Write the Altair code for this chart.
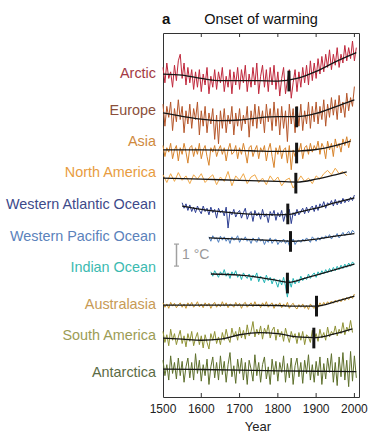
import altair as alt
import pandas as pd

regions = ["Arctic", "Europe", "Asia", "North America", "Western Atlantic Ocean",
           "Western Pacific Ocean", "Indian Ocean", "Australasia", "South America", "Antarctica"]
line_colors = ["#c0283c", "#b5562a", "#d8842c", "#f0a848", "#2e3f94",
               "#4f7fc0", "#22b5b5", "#c9952e", "#8f9235", "#5e702c"]
label_colors = ["#a33a45", "#8b4f3a", "#cf8a3e", "#e89c40", "#3d4a8a",
                "#5b82bb", "#3cbab0", "#c79a55", "#9c9c55", "#5b6b45"]
start_years = [1500, 1500, 1500, 1500, 1550, 1620, 1625, 1500, 1500, 1500]
steps = [5, 5, 5, 10, 5, 5, 5, 5, 5, 5]

arctic = [0.3, -0.4, 0.5, -0.2, 0.1, -0.6, 0.4, -0.3, 0.6, 0.9,
          -0.2, 0.5, -0.5, 0.3, -0.4, 0.2, -0.7, 0.1, -0.6, 0.2,
          -0.8, 0.0, -0.5, 0.3, -0.9, -0.1, -0.6, 0.2, -0.7, 0.1,
          -0.4, 0.3, -0.8, -0.1, -0.6, 0.2, -0.9, 0.1, -0.5, 0.3,
          -0.7, 0.2, -0.4, 0.4, -0.8, 0.0, -0.6, 0.3, -0.5, 0.5,
          -0.9, -0.1, 0.4, -0.6, 0.2, -0.8, 0.3, -0.5, 0.4, -0.7,
          0.1, -1.0, -0.2, 0.3, -0.9, -0.3, 0.2, -1.1, -0.4, 0.2,
          -0.8, 0.1, -0.6, 0.3, -0.4, 0.4, -0.5, 0.6, -0.3, 0.5,
          -0.2, 0.7, 0.0, 0.8, 0.1, 0.9, 0.3, 1.1, 0.2, 0.9,
          0.4, 1.2, 0.3, 0.9, 0.5, 1.3, 0.6, 1.2, 0.7, 1.5,
          0.6, 1.2]
europe = [0.4, -0.6, 0.3, -0.2, 0.5, -0.8, 0.2, -0.4, 0.6, -0.3,
          0.3, -0.9, 0.1, -0.5, 0.4, -0.7, 0.2, -0.3, 0.5, -1.0,
          0.1, -0.6, 0.3, -0.9, 0.0, -0.5, 0.2, -1.2, -0.1, -1.4,
          0.1, -0.7, 0.2, -0.9, -0.1, -0.5, 0.3, -1.0, 0.0, -0.6,
          0.2, -0.8, -0.1, -0.5, 0.3, -1.1, 0.1, -0.6, 0.4, -0.7,
          0.3, -0.5, 0.1, -0.9, 0.4, -0.4, 0.2, -0.8, 0.5, -0.6,
          0.2, -1.0, 0.3, -0.7, 0.1, -1.3, 0.4, -0.5, 0.2, -0.9,
          0.3, -0.6, 0.4, -0.8, 0.1, -0.5, 0.5, -0.7, 0.3, -0.4,
          0.5, -0.5, 0.3, -0.3, 0.6, -0.6, 0.4, -0.2, 0.7, -0.1,
          0.6, -0.3, 0.8, 0.0, 0.5, -0.2, 0.9, 0.1, 0.7, 0.3,
          1.2]
asia = [0.2, -0.3, 0.1, -0.1, 0.3, -0.4, 0.0, 0.2, -0.5, 0.1,
        -0.2, 0.3, -0.1, -0.6, 0.1, 0.2, -0.3, 0.1, -0.2, 0.3,
        -0.4, 0.0, 0.2, -0.3, -0.7, 0.1, -0.1, 0.2, -0.3, 0.0,
        0.2, -0.2, 0.1, -0.5, 0.0, 0.3, -0.2, -0.1, 0.2, -0.4,
        0.1, -0.2, 0.3, -0.1, -0.6, 0.1, 0.2, -0.3, 0.0, 0.2,
        -0.4, 0.1, -0.1, 0.2, -0.5, 0.0, 0.3, -0.3, -0.8, 0.1,
        -0.2, 0.2, -0.4, 0.0, 0.1, -0.6, 0.2, -0.9, 0.0, -0.3,
        0.2, -0.1, 0.3, -0.4, 0.1, 0.2, -0.2, 0.3, -0.1, 0.2,
        0.0, 0.4, -0.2, 0.3, 0.1, -0.4, 0.4, 0.0, 0.3, -0.3,
        0.5, 0.1, 0.3, -0.1, 0.5, 0.2, 0.6, 0.1, 0.5]
north_america = [0.15, -0.2, 0.2, -0.15, 0.25, -0.1, 0.1, -0.25, 0.15, -0.05,
                 0.2, -0.2, 0.0, 0.15, -0.3, 0.05, -0.15, 0.3, -0.35, 0.1,
                 -0.1, 0.2, -0.25, 0.05, 0.15, -0.2, 0.0, -0.3, 0.1, -0.15,
                 0.05, -0.35, -0.1, 0.0, -0.45, -0.2, 0.1, -0.15, 0.0, -0.25,
                 0.1, -0.05, 0.2, 0.35, 0.15, 0.45, 0.2, 0.3, 0.1]
w_atlantic = [0.15, -0.1, 0.1, -0.2, 0.05, -0.25, -0.05, -0.3, 0.0, -0.2,
              -0.35, 0.0, -0.25, -0.1, -0.4, -0.05, -0.3, -0.15, -0.55, -0.1,
              -0.3, -0.2, -0.45, -0.05, -1.0, -0.25, -0.4, -0.15, -0.5, -0.3,
              -0.2, -0.55, -0.3, -0.1, -0.6, -0.35, -0.25, -0.7, -0.2, -0.45,
              -0.3, -0.6, -0.15, -0.5, -0.35, -0.75, -0.25, -0.45, -0.2, -0.65,
              -0.3, -0.5, -0.2, -0.7, -0.35, -0.55, -0.15, -0.8, -0.3, -0.45,
              -0.15, -0.4, -0.25, -0.1, -0.35, -0.05, -0.3, -0.1, 0.0, -0.25,
              0.05, -0.2, 0.1, -0.05, 0.2, -0.1, 0.15, 0.05, 0.25, 0.0,
              0.3, 0.05, 0.25, 0.1, 0.35, 0.15, 0.3, 0.2, 0.4, 0.25,
              0.5]
w_pacific = [0.05, -0.15, 0.1, -0.05, 0.0, -0.2, 0.08, -0.1, 0.05, -0.15,
             0.0, -0.25, 0.05, -0.1, -0.05, 0.1, -0.2, -0.02, -0.1, 0.05,
             -0.15, -0.05, -0.25, 0.0, -0.1, -0.2, 0.02, -0.15, -0.05, -0.3,
             -0.1, -0.2, 0.0, -0.25, -0.1, -0.05, -0.3, -0.15, -0.2, -0.05,
             -0.25, -0.1, -0.35, -0.2, -0.05, -0.3, -0.15, -0.1, -0.2, -0.05,
             -0.15, 0.0, -0.1, -0.2, 0.05, -0.05, -0.15, 0.02, -0.1, 0.05,
             -0.05, 0.1, 0.0, 0.15, -0.05, 0.1, 0.05, 0.2, 0.0, 0.12,
             0.25, 0.1, 0.2, 0.3, 0.15, 0.35, 0.25]
indian = [0.1, -0.1, 0.15, 0.0, -0.15, 0.1, -0.05, 0.2, -0.1, 0.05,
          -0.2, 0.1, -0.05, 0.15, -0.15, 0.0, -0.25, 0.05, -0.1, -0.2,
          0.0, -0.3, -0.05, -0.15, 0.05, -0.35, -0.1, -0.2, -0.4, -0.05,
          -0.3, -0.15, -0.45, -0.2, -0.35, -0.6, -0.25, -0.5, -0.15, -0.55,
          -1.05, -0.3, -0.6, -0.2, -0.45, -0.25, -0.4, -0.1, -0.3, -0.15,
          -0.25, 0.0, -0.2, -0.05, 0.05, -0.15, 0.1, -0.05, 0.15, 0.0,
          0.2, 0.05, 0.25, 0.1, 0.3, 0.15, 0.35, 0.2, 0.4, 0.25,
          0.45, 0.3, 0.5, 0.35, 0.55, 0.45]
australasia = [0.1, -0.1, 0.05, -0.15, 0.12, -0.05, 0.08, -0.12, 0.0, 0.1,
               -0.1, 0.05, -0.15, 0.1, -0.05, 0.12, -0.1, 0.0, 0.15, -0.08,
               0.05, -0.12, 0.1, -0.05, 0.08, -0.15, 0.02, 0.12, -0.1, 0.05,
               -0.08, 0.15, -0.05, 0.1, -0.12, 0.05, 0.0, -0.1, 0.12, -0.05,
               0.08, -0.15, 0.05, 0.12, -0.1, 0.0, 0.1, -0.08, 0.15, -0.05,
               0.05, -0.12, 0.1, -0.05, 0.15, -0.1, 0.02, 0.1, -0.15, 0.05,
               -0.05, 0.1, -0.12, 0.05, -0.08, 0.12, -0.15, 0.0, 0.08, -0.1,
               -0.18, 0.02, -0.1, 0.05, -0.15, -0.02, -0.2, 0.05, -0.08, -0.15,
               0.0, -0.1, 0.1, -0.05, 0.12, 0.0, 0.15, 0.05, 0.18, 0.08,
               0.22, 0.12, 0.25, 0.15, 0.3, 0.2, 0.35, 0.25, 0.4, 0.3,
               0.5]
south_america = [0.3, -0.2, 0.15, -0.35, 0.4, -0.1, 0.2, -0.3, 0.05, 0.35,
                 -0.25, 0.1, -0.4, 0.2, -0.15, 0.3, -0.35, 0.0, 0.25, -0.3,
                 0.1, -0.45, 0.15, -0.2, -0.5, 0.2, -0.1, 0.3, -0.25, 0.05,
                 -0.3, 0.25, -0.1, 0.4, 0.0, -0.2, 0.45, 0.05, 0.3, -0.1,
                 0.5, 0.0, 0.35, -0.05, 0.6, 0.1, 0.3, 0.75, 0.05, 0.4,
                 0.15, 0.55, -0.05, 0.45, 0.2, 0.6, 0.0, 0.35, 0.5, -0.1,
                 0.4, 0.05, 0.3, -0.15, 0.45, 0.1, -0.2, 0.3, 0.0, 0.2,
                 -0.25, 0.25, -0.1, 0.3, -0.3, 0.15, 0.05, -0.2, 0.35, -0.1,
                 0.2, -0.15, 0.4, 0.0, 0.25, -0.1, 0.5, 0.05, 0.3, 0.15,
                 0.55, 0.1, 0.4, 0.2, 0.7, 0.15, 0.5, 0.3, 0.8, 0.25]
antarctica = [0.4, -0.3, 0.2, -0.5, 0.6, -0.2, 0.3, -0.45, 0.5, -0.3,
              0.35, -0.6, 0.1, 0.5, -0.4, 0.3, -0.5, 0.7, -0.2, 0.4,
              -0.55, 0.2, -0.3, 0.45, -0.7, 0.1, 0.55, -0.4, 0.3, -0.5,
              0.6, -0.25, 0.35, -0.6, 0.2, 0.75, -0.35, 0.15, -0.65, 0.45,
              -0.2, 0.5, -0.5, 0.3, -0.7, 0.4, 0.0, -0.55, 0.65, -0.3,
              0.3, -0.6, 0.2, 0.55, -0.45, 0.1, -0.7, 0.45, -0.25, 0.35,
              -0.55, 0.3, -0.15, 0.6, -0.6, 0.25, -0.4, 0.5, -0.7, 0.15,
              0.5, -0.35, 0.3, -0.65, 0.4, -0.2, 0.65, -0.5, 0.2, -0.6,
              0.35, -0.3, 0.55, -0.7, 0.25, -0.45, 0.5, -0.15, 0.7, -0.6,
              0.3, -0.75, 0.55, -0.35, 0.75, -0.5, 0.4, -0.8, 0.8, -0.55,
              0.6, -0.4]
series_values = [arctic, europe, asia, north_america, w_atlantic,
                 w_pacific, indian, australasia, south_america, antarctica]

smooth_years = [
    [1500, 1550, 1600, 1650, 1700, 1750, 1800, 1850, 1900, 1950, 2005],
    [1500, 1550, 1600, 1650, 1700, 1750, 1800, 1850, 1900, 1950, 2000],
    [1500, 1600, 1700, 1750, 1800, 1850, 1900, 1950, 1990],
    [1500, 1600, 1700, 1800, 1850, 1900, 1950, 1980],
    [1550, 1600, 1650, 1700, 1750, 1800, 1830, 1850, 1900, 1950, 2000],
    [1620, 1700, 1800, 1840, 1900, 1950, 2000],
    [1625, 1700, 1750, 1800, 1830, 1870, 1900, 1950, 2000],
    [1500, 1600, 1700, 1800, 1850, 1900, 1950, 2000],
    [1500, 1550, 1600, 1650, 1700, 1750, 1800, 1850, 1900, 1950, 1995],
    [1500, 1600, 1700, 1800, 1900, 2005],
]
smooth_vals = [
    [0, -0.05, -0.2, -0.3, -0.3, -0.3, -0.32, -0.2, 0.12, 0.55, 0.97],
    [0, -0.15, -0.28, -0.35, -0.32, -0.22, -0.17, -0.17, -0.02, 0.28, 0.6],
    [0, 0, -0.02, -0.05, -0.07, -0.05, 0.02, 0.2, 0.4],
    [0, -0.05, -0.1, -0.15, -0.18, -0.05, 0.15, 0.28],
    [0, -0.15, -0.25, -0.33, -0.38, -0.4, -0.38, -0.3, -0.1, 0.15, 0.37],
    [0, -0.05, -0.12, -0.15, -0.05, 0.08, 0.2],
    [0, -0.05, -0.15, -0.3, -0.38, -0.2, -0.05, 0.2, 0.45],
    [0, 0, 0, -0.02, -0.05, -0.05, 0.15, 0.4],
    [0, -0.05, -0.1, -0.05, 0.15, 0.25, 0.2, 0.05, 0.02, 0.2, 0.42],
    [0, -0.02, -0.05, -0.08, -0.1, -0.12],
]
onset_years = [1829, 1849, 1849, 1847, 1826, 1833, 1825, 1901, 1894]
onset_centers = [-0.32, -0.18, -0.14, -0.23, -0.36, -0.16, -0.41, -0.05, 0.0]
tick_years = [1500, 1600, 1700, 1800, 1900, 2000]

# layout (row offsets in degC on the stacked axis)
row_offset = [14.68, 12.91, 11.23, 9.95, 8.68, 7.23, 5.59, 4.18, 2.68, 1.27]
label_pos = [14.68, 13.0, 11.6, 10.17, 8.73, 7.29, 5.85, 4.18, 2.77, 1.1]
MARK_HALF = 0.47
FONT = "Liberation Sans"

rows = []
for i, r in enumerate(regions):
    for k, v in enumerate(series_values[i]):
        rows.append({"region": r, "year": start_years[i] + k * steps[i],
                     "temp": v + row_offset[i], "color": line_colors[i]})
df = pd.DataFrame(rows)

srows = []
for i, r in enumerate(regions):
    for yr, v in zip(smooth_years[i], smooth_vals[i]):
        srows.append({"region": r, "year": yr, "temp": v + row_offset[i]})
sdf = pd.DataFrame(srows)

mdf = pd.DataFrame({
    "year": onset_years,
    "lo": [c + row_offset[i] - MARK_HALF for i, c in enumerate(onset_centers)],
    "hi": [c + row_offset[i] + MARK_HALF for i, c in enumerate(onset_centers)],
})
ldf = pd.DataFrame({"region": regions, "pos": label_pos, "color": label_colors})
tdf = pd.DataFrame({"year": tick_years[1:]})
tl = pd.DataFrame({"year": tick_years, "lab": [str(t) for t in tick_years]})

xs = alt.Scale(domain=[1500, 2012], nice=False, zero=False)
ys = alt.Scale(domain=[0, 16.545], nice=False, zero=False)

XN = alt.X("year:Q", scale=xs, axis=None)
Y = alt.Y("temp:Q", scale=ys, axis=None)

noisy = alt.Chart(df).mark_line(strokeWidth=1.0).encode(
    x=XN, y=Y, detail="region:N", color=alt.Color("color:N", scale=None))
smooth = alt.Chart(sdf).mark_line(strokeWidth=1.3, color="#151515", interpolate="monotone").encode(
    x=XN, y=Y, detail="region:N")
markers = alt.Chart(mdf).mark_rule(strokeWidth=3, color="#151515").encode(
    x=XN, y=alt.Y("lo:Q", scale=ys, axis=None), y2="hi:Q")
labels = alt.Chart(ldf).mark_text(align="right", baseline="middle", fontSize=14.4, font=FONT).encode(
    x=alt.value(-7), y=alt.Y("pos:Q", scale=ys, axis=None), text="region:N",
    color=alt.Color("color:N", scale=None))
bot_ticks = alt.Chart(tdf).mark_rule(color="#333", strokeWidth=1).encode(
    x=XN, y=alt.value(364), y2=alt.value(360))
top_ticks = alt.Chart(tdf).mark_rule(color="#333", strokeWidth=1).encode(
    x=XN, y=alt.value(0), y2=alt.value(4))
tick_labels = alt.Chart(tl).mark_text(align="center", baseline="middle", fontSize=12,
                                      font=FONT, color="#222").encode(
    x=XN, y=alt.value(376), text="lab:N")
xtitle = alt.Chart(pd.DataFrame({"t": ["Year"]})).mark_text(
    align="center", baseline="middle", fontSize=13, font=FONT, color="#222").encode(
    x=alt.value(95), y=alt.value(394), text="t:N")

sb = pd.DataFrame({"lo": [5.95], "hi": [6.95]})
bar = alt.Chart(sb).mark_rule(color="#a0a0a0", strokeWidth=1.5).encode(
    x=alt.value(13.5), y=alt.Y("lo:Q", scale=ys, axis=None), y2="hi:Q")
cap1 = alt.Chart(sb).mark_rule(color="#a0a0a0", strokeWidth=1.2).encode(
    x=alt.value(11), x2=alt.value(16), y=alt.Y("lo:Q", scale=ys, axis=None))
cap2 = alt.Chart(sb).mark_rule(color="#a0a0a0", strokeWidth=1.2).encode(
    x=alt.value(11), x2=alt.value(16), y=alt.Y("hi:Q", scale=ys, axis=None))
sbtext = alt.Chart(pd.DataFrame({"t": ["1 °C"], "p": [6.45]})).mark_text(
    align="left", baseline="middle", fontSize=14, font=FONT, color="#999").encode(
    x=alt.value(19), y=alt.Y("p:Q", scale=ys, axis=None), text="t:N")

title = alt.Chart(pd.DataFrame({"t": ["Onset of warming"]})).mark_text(
    align="center", baseline="middle", fontSize=14.5, font=FONT, color="#111").encode(
    x=alt.value(98), y=alt.value(-13), text="t:N")
panel = alt.Chart(pd.DataFrame({"t": ["a"]})).mark_text(
    align="left", baseline="middle", fontSize=15, font=FONT, fontWeight="bold", color="#111").encode(
    x=alt.value(-1), y=alt.value(-14), text="t:N")

chart = alt.layer(noisy, smooth, markers, labels, bot_ticks, top_ticks, tick_labels, xtitle,
                  bar, cap1, cap2, sbtext, title, panel).properties(
    width=196, height=364,
    autosize=alt.AutoSizeParams(type="none"),
    padding={"left": 163, "top": 33, "right": 9, "bottom": 47},
).configure_view(stroke="#333", strokeWidth=1)

chart.save("out.html", embed_options={"renderer": "svg", "actions": False})
